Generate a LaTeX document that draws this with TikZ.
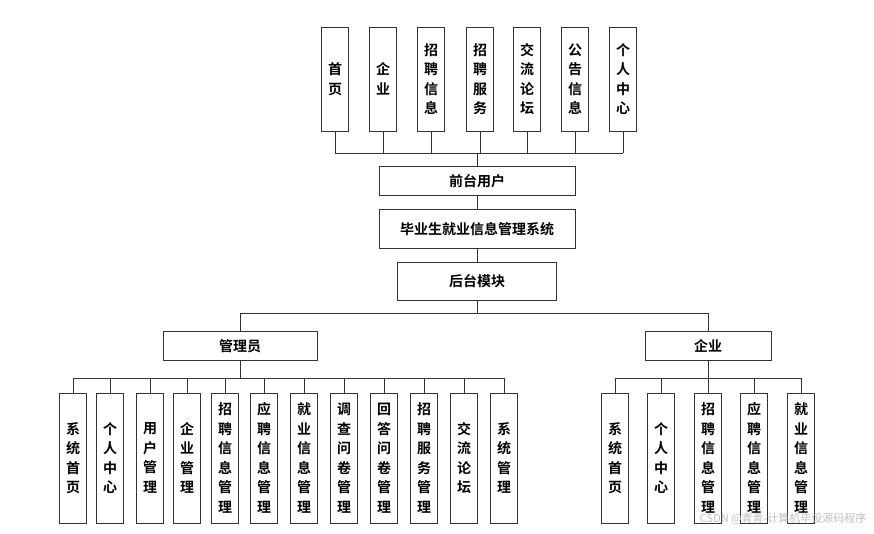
\documentclass[tikz,border=0pt]{standalone}
\usepackage{fontspec}
\setmainfont{Noto Sans CJK SC}[BoldFont={* Bold}]
\begin{document}
\begin{tikzpicture}[x=1pt,y=-1pt,
  box/.style={draw=black!80,line width=0.8pt,inner sep=0pt,font=\fontsize{14}{14}\selectfont\bfseries},
  vbox/.style={box,minimum width=27pt,align=center,font=\fontsize{14}{19.5}\selectfont\bfseries},
  ln/.style={draw=black!80,line width=0.8pt}]
\useasboundingbox (0,0) rectangle (874,534);
% top
\foreach \n/\x/\t in {t1/335/{首\\页},t2/383/{企\\业},t3/431/{招\\聘\\信\\息},t4/480/{招\\聘\\服\\务},t5/527/{交\\流\\论\\坛},t6/575/{公\\告\\信\\息},t7/623/{个\\人\\中\\心}}
  \node[vbox,minimum height=104pt] (\n) at (\x,79) {\t};
\node[box,minimum width=196pt,minimum height=29pt] (qt) at (477,181) {前台用户};
\node[box,minimum width=196pt,minimum height=39pt] (sys) at (477,229) {毕业生就业信息管理系统};
\node[box,minimum width=159pt,minimum height=38pt] (ht) at (477,281) {后台模块};
\node[box,minimum width=154pt,minimum height=29pt] (gly) at (240,346) {管理员};
\node[box,minimum width=126pt,minimum height=29pt] (qy) at (708,346) {企业};
\coordinate (topbar) at (0,153);
\foreach \n in {t1,t2,t3,t4,t5,t6,t7}
  \draw[ln] (\n.south) -- (\n.south |- topbar);
\draw[ln] (t1.south |- topbar) -- (t7.south |- topbar);
\draw[ln] (qt.north |- topbar) -- (qt.north);
\draw[ln] (qt) -- (sys);
\draw[ln] (sys) -- (ht);
\coordinate (midbar) at (0,313);
\draw[ln] (ht.south) -- (ht.south |- midbar);
\draw[ln] (gly.north) -- (gly.north |- midbar) -- (qy.north |- midbar) -- (qy.north);
\coordinate (lowbar) at (0,378);
% admin children
\foreach \n/\x/\t in {a1/73/{系\\统\\首\\页},a2/110/{个\\人\\中\\心},a3/150/{用\\户\\管\\理},a4/187/{企\\业\\管\\理},a5/225/{招\\聘\\信\\息\\管\\理},a6/264/{应\\聘\\信\\息\\管\\理},a7/304/{就\\业\\信\\息\\管\\理},a8/344/{调\\查\\问\\卷\\管\\理},a9/384/{回\\答\\问\\卷\\管\\理},a10/424/{招\\聘\\服\\务\\管\\理},a11/464/{交\\流\\论\\坛},a12/504/{系\\统\\管\\理}}
{ \node[vbox,minimum height=130pt] (\n) at (\x,458) {\t};
  \draw[ln] (\n.north) -- (\n.north |- lowbar); }
\draw[ln] (a1.north |- lowbar) -- (a12.north |- lowbar);
\draw[ln] (gly.south) -- (gly.south |- lowbar);
\foreach \n/\x/\t in {e1/615/{系\\统\\首\\页},e2/661/{个\\人\\中\\心},e3/708/{招\\聘\\信\\息\\管\\理},e4/754/{应\\聘\\信\\息\\管\\理},e5/801/{就\\业\\信\\息\\管\\理}}
{ \node[vbox,minimum height=130pt] (\n) at (\x,458) {\t};
  \draw[ln] (\n.north) -- (\n.north |- lowbar); }
\draw[ln] (e1.north |- lowbar) -- (e5.north |- lowbar);
\draw[ln] (qy.south) -- (qy.south |- lowbar);
\node[text=black!25,font=\fontsize{11}{11}\selectfont,anchor=east] (wm) at (870,519) {CSDN @青青-计算机毕设源码程序};
\end{tikzpicture}
\end{document}
